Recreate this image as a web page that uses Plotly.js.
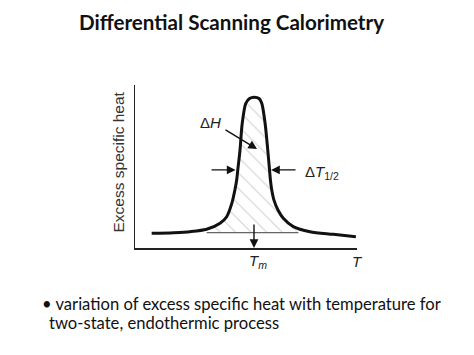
<!DOCTYPE html>
<html>
<head>
<meta charset="utf-8">
<script src="https://cdn.plot.ly/plotly-3.0.1.min.js"></script>
<style>html,body{margin:0;padding:0;background:#fff;}#chart{width:474px;height:355px;}</style>
</head>
<body>
<div id="chart"></div>
<script>
// Temperature (arbitrary units) and excess specific heat (arbitrary units)
const temperature = [7.5, 17.3, 24.8, 32.3, 38.3, 41.3, 43.6, 45.0, 45.8, 46.3, 47.3, 48.3, 49.9, 51.6, 53.7, 55.9, 57.1, 58.6, 59.8, 60.6, 61.0, 61.6, 62.6, 64.4, 66.8, 71.3, 78.8, 89.3, 99.5];
const excessCp = [9.0, 9.4, 10.0, 11.5, 15.2, 19.2, 27.4, 35.6, 41.7, 47.9, 60.1, 76.5, 88.8, 91.7, 92.5, 91.7, 88.8, 76.5, 60.1, 47.9, 41.7, 35.6, 29.4, 23.3, 18.2, 13.1, 10.0, 8.4, 6.9];
// Baseline drawn under the peak
const baselineT = [32.3, 73.6];
const baselineCp = [9.4, 9.4];
// Characteristic values
const Tm = 53.6;
const halfHeight = 47.9;
const halfLeft = 45.3;
const halfRight = 61.3;

const titleText = "Differential Scanning Calorimetry";
const bulletLine1 = "• variation of excess specific heat with temperature for";
const bulletLine2 = "two-state, endothermic process";

// hatch polygon built from the curve between the baseline ends
const hatchX = [baselineT[0]], hatchY = [baselineCp[0]];
for (let i = 0; i < temperature.length; i++) {
  if (temperature[i] > baselineT[0] && temperature[i] < baselineT[1]) {
    hatchX.push(temperature[i]); hatchY.push(excessCp[i]);
  }
}
hatchX.push(baselineT[1]); hatchY.push(baselineCp[1]);

const traces = [
  {x: hatchX, y: hatchY, type: 'scatter', mode: 'lines', fill: 'toself',
   fillcolor: 'white', line: {width: 0, color: 'rgba(0,0,0,0)'},
   fillpattern: {shape: '\\', size: 11, solidity: 0.1, fgcolor: '#d2d2d2', bgcolor: 'white'},
   hoverinfo: 'skip'},
  {x: baselineT, y: baselineCp, type: 'scatter', mode: 'lines',
   line: {width: 1.2, color: '#666'}},
  {x: temperature, y: excessCp, type: 'scatter', mode: 'lines',
   line: {width: 3, color: '#111', shape: 'spline', smoothing: 0.8}}
];

const lab = {family: 'Liberation Sans, Arial, sans-serif', size: 15, color: '#222'};
const slide = {family: 'Lato, Calibri, sans-serif', color: '#111'};
function arrow(x, y, ax, ay) {
  return {x: x, y: y, ax: ax, ay: ay, xref: 'x', yref: 'y', axref: 'x', ayref: 'y',
    text: '', showarrow: true, arrowhead: 2, arrowsize: 1.25, arrowwidth: 1.4,
    arrowcolor: '#111', standoff: 0, startstandoff: 0};
}
const annotations = [
  arrow(halfLeft, halfHeight, 33.8, halfHeight),
  arrow(halfRight, halfHeight, 73.0, halfHeight),
  arrow(55.0, 60.7, 40.1, 73.0),
  arrow(Tm, 0, Tm, 15.3),
  {x: 34.2, y: 76.7, xref: 'x', yref: 'y', text: 'Δ<i>H</i>', showarrow: false, font: lab, xanchor: 'center', yanchor: 'middle'},
  {x: 75.5, y: 46.6, xref: 'x', yref: 'y', text: 'Δ<i>T</i><sub>1/2</sub>', showarrow: false, font: lab, xanchor: 'left', yanchor: 'middle'},
  {x: 0.506, y: -0.085, xref: 'paper', yref: 'paper', text: '<i>T<sub>m</sub></i>', showarrow: false, font: lab, xanchor: 'left', yanchor: 'middle'},
  {x: 1.0, y: -0.085, xref: 'paper', yref: 'paper', text: '<i>T</i>', showarrow: false, font: lab, xanchor: 'center', yanchor: 'middle'},
  {x: -0.074, y: 0.528, xref: 'paper', yref: 'paper', text: 'Excess specific heat', textangle: -90, showarrow: false,
   font: {family: 'Liberation Sans, Arial, sans-serif', size: 15.5, color: '#333'}, xanchor: 'center', yanchor: 'middle'},
  {x: (231.5 - 135) / 222, y: (248 - 22) / 163, xref: 'paper', yref: 'paper', text: '<b>' + titleText + '</b>', showarrow: false,
   font: Object.assign({size: 20.6}, slide), xanchor: 'center', yanchor: 'middle'},
  {x: (40 - 135) / 222, y: (248 - 304) / 163, xref: 'paper', yref: 'paper', text: bulletLine1, showarrow: false,
   font: Object.assign({size: 16.6}, slide), xanchor: 'left', yanchor: 'middle'},
  {x: (47 - 135) / 222, y: (248 - 323) / 163, xref: 'paper', yref: 'paper', text: bulletLine2, showarrow: false,
   font: Object.assign({size: 16.6}, slide), xanchor: 'left', yanchor: 'middle'}
];

const axisBase = {showline: true, linecolor: '#222', linewidth: 1.5, showgrid: false, zeroline: false,
  showticklabels: false, ticks: '', fixedrange: true};
const layout = {
  width: 474, height: 355,
  margin: {l: 135, r: 117, t: 85, b: 107, pad: 0},
  paper_bgcolor: 'white', plot_bgcolor: 'white', showlegend: false,
  xaxis: Object.assign({range: [0, 100]}, axisBase),
  yaxis: Object.assign({range: [0, 100]}, axisBase),
  annotations: annotations
};
Plotly.newPlot('chart', traces, layout, {staticPlot: true, displayModeBar: false});
</script>
</body>
</html>
